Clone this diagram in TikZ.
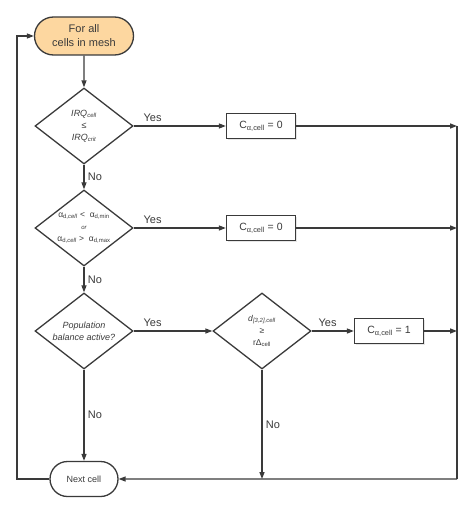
\documentclass[tikz,border=0pt]{standalone}
\usepackage{fontspec}
\setmainfont{Liberation Sans}
\usetikzlibrary{shapes.geometric,shapes.misc,arrows.meta,shadows}
\definecolor{lineg}{HTML}{3A3A3A}
\definecolor{termfill}{HTML}{FDD7A0}

\begin{document}
\begin{tikzpicture}[x=1pt, y=-1pt, line width=1.3pt, color=lineg,
    >={Triangle[length=7pt,width=5pt]},
    term/.style = {draw, rounded rectangle, align=center, inner sep=0pt},
    test/.style = {draw, diamond, aspect=1.3, minimum width=98pt, minimum height=76pt, inner sep=-4pt, align=center, font=\fontsize{8.5}{12}\selectfont},
    result/.style = {draw, fill=white, minimum width=69pt, minimum height=25pt, inner sep=0pt, font=\fontsize{10.5}{12}\selectfont, drop shadow={shadow xshift=1pt, shadow yshift=-1.5pt, opacity=0.2}},
    lab/.style = {font=\fontsize{11}{13}\selectfont}]

    \useasboundingbox (0,0) rectangle (474,513);

    % Nodes
    \node[term, fill=termfill, minimum width=99pt, minimum height=38pt, font=\fontsize{11}{14}\selectfont] (start) at (84,36) {For all\\cells in mesh};
    \node[test, font=\fontsize{9}{12}\selectfont] (Q1) at (84,126) {\itshape IRQ\textsubscript{cell}\\ ≤\\ \itshape IRQ\textsubscript{crit}};
    \node[test] (Q2) at (84,228) {α\textsubscript{d,\textit{cell}} <\ \ α\textsubscript{d,min}\\ {\fontsize{6}{6}\selectfont\itshape or}\\ α\textsubscript{d,\textit{cell}} >\ \ α\textsubscript{d,max}};
    \node[test, font=\fontsize{9}{12}\selectfont\itshape] (Q3) at (84,331) {Population\\balance active?};
    \node[test] (Q4) at (262,331) {\textit{d}\textsubscript{\textit{[3,2],cell}}\\ ≥\\ rΔ\textsubscript{cell}};
    \node[result] (C1) at (261,126) {C\textsubscript{α,cell} = 0};
    \node[result] (C2) at (261,228) {C\textsubscript{α,cell} = 0};
    \node[result] (C3) at (389,331) {C\textsubscript{α,cell} = 1};
    \node[term, fill=white, minimum width=68pt, minimum height=35pt, font=\fontsize{9}{11}\selectfont] (next) at (84,479) {Next cell};

    \coordinate (r1) at (457,126);
    \coordinate (r2) at (457,228);
    \coordinate (r3) at (457,331);
    \coordinate (r4) at (457,479);
    \coordinate (j4) at (262,479);
    \coordinate (l1) at (17,479);

    % Edges
    \draw[->] (start) to (Q1);
    \draw[->] (Q1) to node[lab, right] {No} (Q2);
    \draw[->] (Q2) to node[lab, right] {No} (Q3);
    \draw[->] (Q3) to node[lab, right] {No} (next);
    \draw[->] (Q4) to node[lab, right] {No} (j4);
    \draw[->] (Q1) to node[lab, above right, pos=0, xshift=6pt] {Yes} (C1);
    \draw[->] (Q2) to node[lab, above right, pos=0, xshift=6pt] {Yes} (C2);
    \draw[->] (Q3) to node[lab, above right, pos=0, xshift=6pt] {Yes} (Q4);
    \draw[->] (Q4) to node[lab, above right, pos=0, xshift=3pt] {Yes} (C3);
    \draw[->] (C1) to (r1);
    \draw[->] (C2) to (r2);
    \draw[->] (C3) to (r3);
    \draw (r1) to (r4);
    \draw[->] (r4) to (next);
    \draw[->] (next.west) -- (l1) |- (start.west);
\end{tikzpicture}
\end{document}
